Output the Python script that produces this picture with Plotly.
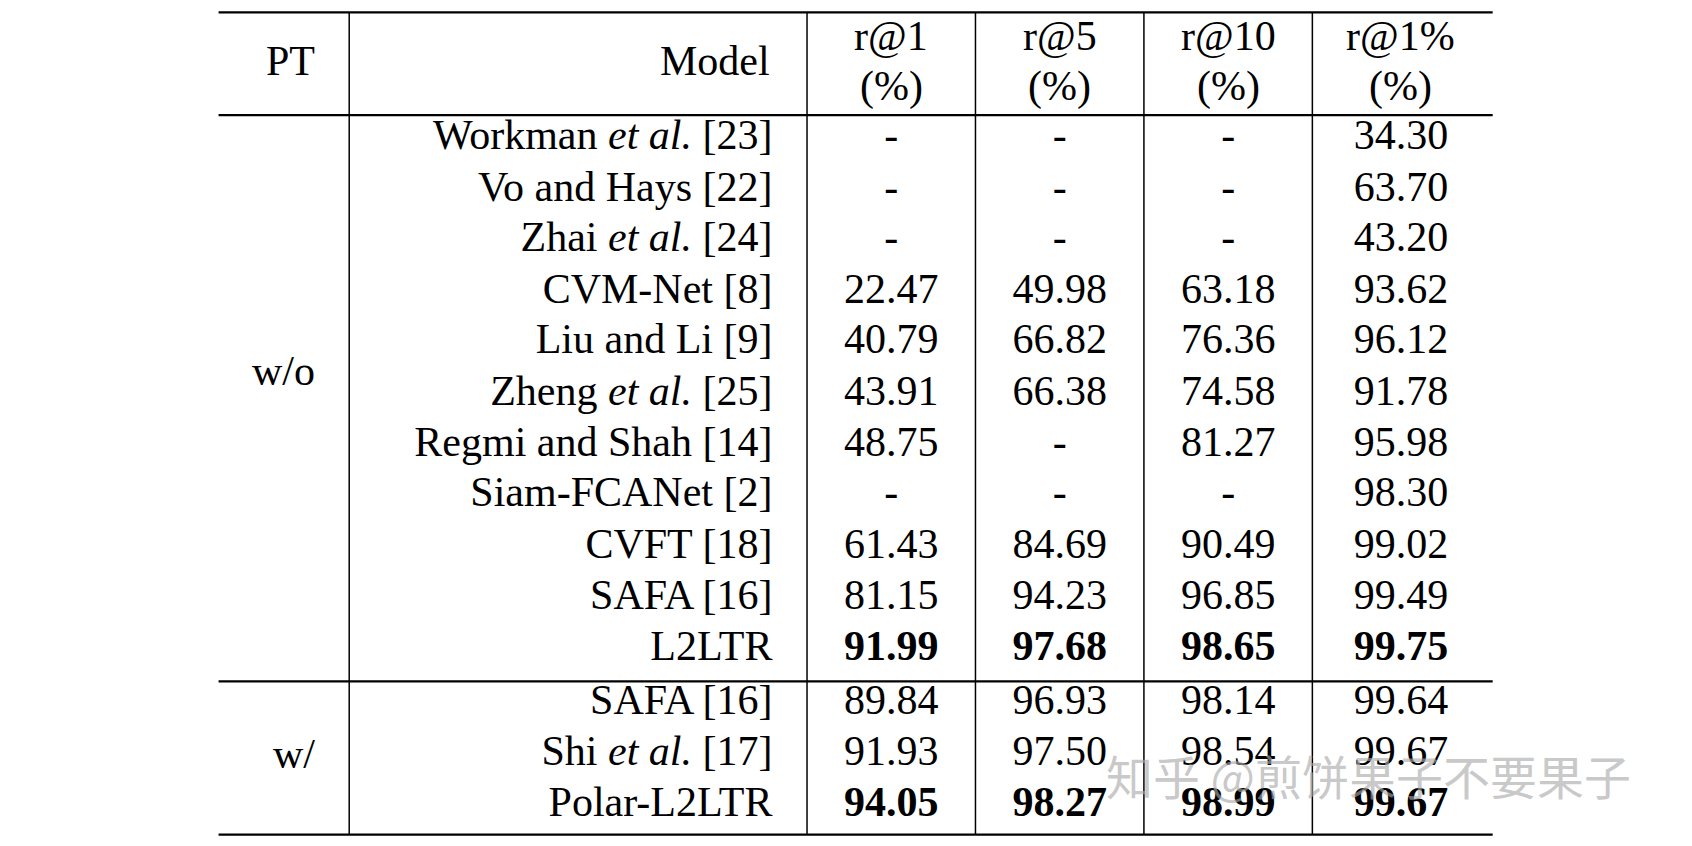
import plotly.graph_objects as go

# ── Table data ──────────────────────────────────────────────
models = [
    "Workman <i>et al.</i> [23]", "Vo and Hays [22]", "Zhai <i>et al.</i> [24]",
    "CVM-Net [8]", "Liu and Li [9]", "Zheng <i>et al.</i> [25]",
    "Regmi and Shah [14]", "Siam-FCANet [2]", "CVFT [18]", "SAFA [16]",
    "L2LTR", "SAFA [16]", "Shi <i>et al.</i> [17]", "Polar-L2LTR",
]
r1 = ["-", "-", "-", "22.47", "40.79", "43.91", "48.75", "-", "61.43", "81.15",
      "<b>91.99</b>", "89.84", "91.93", "<b>94.05</b>"]
r5 = ["-", "-", "-", "49.98", "66.82", "66.38", "-", "-", "84.69", "94.23",
      "<b>97.68</b>", "96.93", "97.50", "<b>98.27</b>"]
r10 = ["-", "-", "-", "63.18", "76.36", "74.58", "81.27", "-", "90.49", "96.85",
       "<b>98.65</b>", "98.14", "98.54", "<b>98.99</b>"]
r1p = ["34.30", "63.70", "43.20", "93.62", "96.12", "91.78", "95.98", "98.30",
       "99.02", "99.49", "<b>99.75</b>", "99.64", "99.67", "<b>99.67</b>"]
headers = ["r@1", "r@5", "r@10", "r@1%"]

# layout in reference pixel space
row_y = [123, 171, 218, 266, 313, 361, 409, 456, 504, 552, 599, 650, 697, 745]
col_x = [828, 984, 1140, 1300]
model_x = 718
FONT = "Liberation Serif, Times New Roman, serif"
FS = 42

fig = go.Figure()
fig.add_trace(go.Scatter(x=[model_x] * len(models), y=row_y, text=models,
                         mode="text", textposition="middle left",
                         textfont=dict(family=FONT, size=FS, color="black"),
                         hoverinfo="skip"))
for cx, vals in zip(col_x, [r1, r5, r10, r1p]):
    fig.add_trace(go.Scatter(x=[cx] * len(vals), y=row_y, text=vals,
                             mode="text", textposition="middle center",
                             textfont=dict(family=FONT, size=FS, color="black"),
                             hoverinfo="skip"))

def label(x, y, t, anchor="center", size=FS, color="black", family=FONT):
    fig.add_annotation(x=x, y=y, text=t, showarrow=False, xanchor=anchor,
                       yanchor="middle", font=dict(family=family, size=size, color=color))

label(272, 50, "PT")
label(model_x, 50, "Model", anchor="right")
for cx, h in zip(col_x, headers):
    label(cx, 27, h)
    label(cx, 74, "(%)")
label(265, 340, "w/o")
label(275, 697, "w/")

# rules
for y in [5, 101, 629, 772]:
    fig.add_shape(type="line", x0=205, x1=1385, y0=y, y1=y,
                  line=dict(color="black", width=2.2))
for x in [326, 750, 906, 1062, 1218]:
    fig.add_shape(type="line", x0=x, x1=x, y0=5, y1=772,
                  line=dict(color="black", width=1.5))

# watermark
label(1270, 716, "知乎 @煎饼果子不要果子", size=47,
      color="rgba(170,170,170,0.65)", family="Noto Sans CJK SC")

fig.update_xaxes(range=[10, 1577], visible=False)
fig.update_yaxes(range=[790, 1], visible=False)
fig.update_layout(width=1692, height=846, margin=dict(l=0, r=0, t=0, b=0),
                  plot_bgcolor="white", paper_bgcolor="white", showlegend=False)
fig.write_html("out.html")
